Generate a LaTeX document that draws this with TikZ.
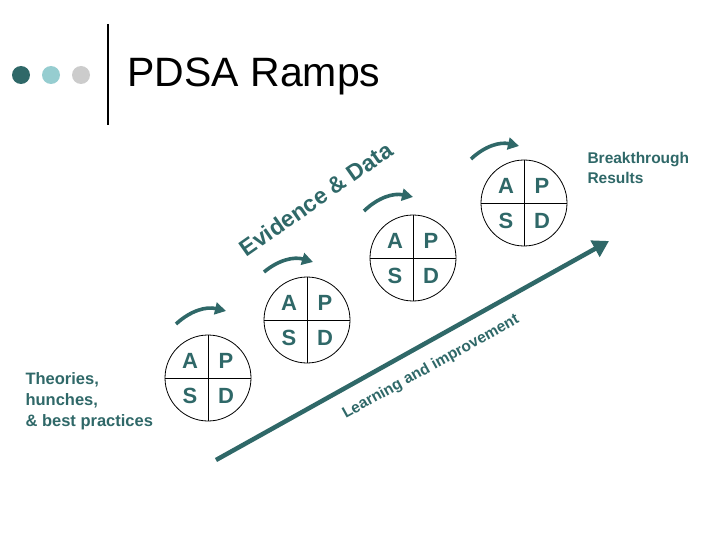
\documentclass[tikz,border=0pt]{standalone}
\usepackage{fontspec}
\setmainfont{Liberation Sans}
\usetikzlibrary{arrows.meta}
\definecolor{teal1}{HTML}{2F6868}
\definecolor{teal2}{HTML}{96CDD0}
\definecolor{grey1}{HTML}{CCCCCC}
\begin{document}
\begin{tikzpicture}[x=1pt,y=-1pt,
  pdsa/.style={circle,draw=black,line width=0.8pt,minimum size=86pt,inner sep=0pt},
  lt/.style={font=\fontsize{22}{24}\selectfont\bfseries,text=teal1},
  sm/.style={line width=3.6pt,draw=teal1,-{Triangle[length=11pt,width=12pt]}},
  lab/.style={font=\fontsize{16.5}{21}\selectfont\bfseries,text=teal1,align=left}]
\useasboundingbox (0,0) rectangle (720,540);
\fill[teal1] (21,75) circle (9);
\fill[teal2] (51,75) circle (9);
\fill[grey1] (81,75) circle (9);
\draw[line width=1.6pt] (108,24) -- (108,125);
\node[anchor=west,font=\fontsize{41}{44}\selectfont] (title) at (124,76) {PDSA Ramps};
\foreach \n/\x/\y in {1/208/378,2/307/320,3/413/258,4/524/203}{
  \node[pdsa] (c\n) at (\x,\y) {};
  \draw[line width=0.8pt] (c\n.north) -- (c\n.south) (c\n.west) -- (c\n.east);
  \node[lt] at (\x-18,\y-17) {A};
  \node[lt] at (\x+18,\y-17) {P};
  \node[lt] at (\x-18,\y+18) {S};
  \node[lt] at (\x+18,\y+18) {D};
}
\coordinate (a1s) at (176,324); \coordinate (a1e) at (226,311);
\coordinate (a2s) at (264,272); \coordinate (a2e) at (313,262);
\coordinate (a3s) at (364,211); \coordinate (a3e) at (413,197);
\coordinate (a4s) at (471,159); \coordinate (a4e) at (519,146);
\foreach \n in {1,2,3,4}{
  \draw[sm] (a\n s) to[bend left=28] (a\n e);
}
\coordinate (bs) at (216,460); \coordinate (be) at (609,241);
\draw[line width=4.5pt,draw=teal1,-{Triangle[length=16pt,width=18pt]}] (bs) -- (be);
\node[rotate=29,font=\fontsize{15.5}{17}\selectfont\bfseries,text=teal1] (li) at (431,367) {Learning and improvement};
\node[rotate=35,font=\fontsize{23}{26}\selectfont\bfseries,text=teal1] (ed) at (316,199) {Evidence \& Data};
\node[lab,anchor=north west] (th) at (22,369) {Theories,\\hunches,\\\& best practices};
\node[lab,anchor=north west,font=\fontsize{15.5}{19.5}\selectfont\bfseries] (br) at (584,149) {Breakthrough\\Results};
\end{tikzpicture}
\end{document}
